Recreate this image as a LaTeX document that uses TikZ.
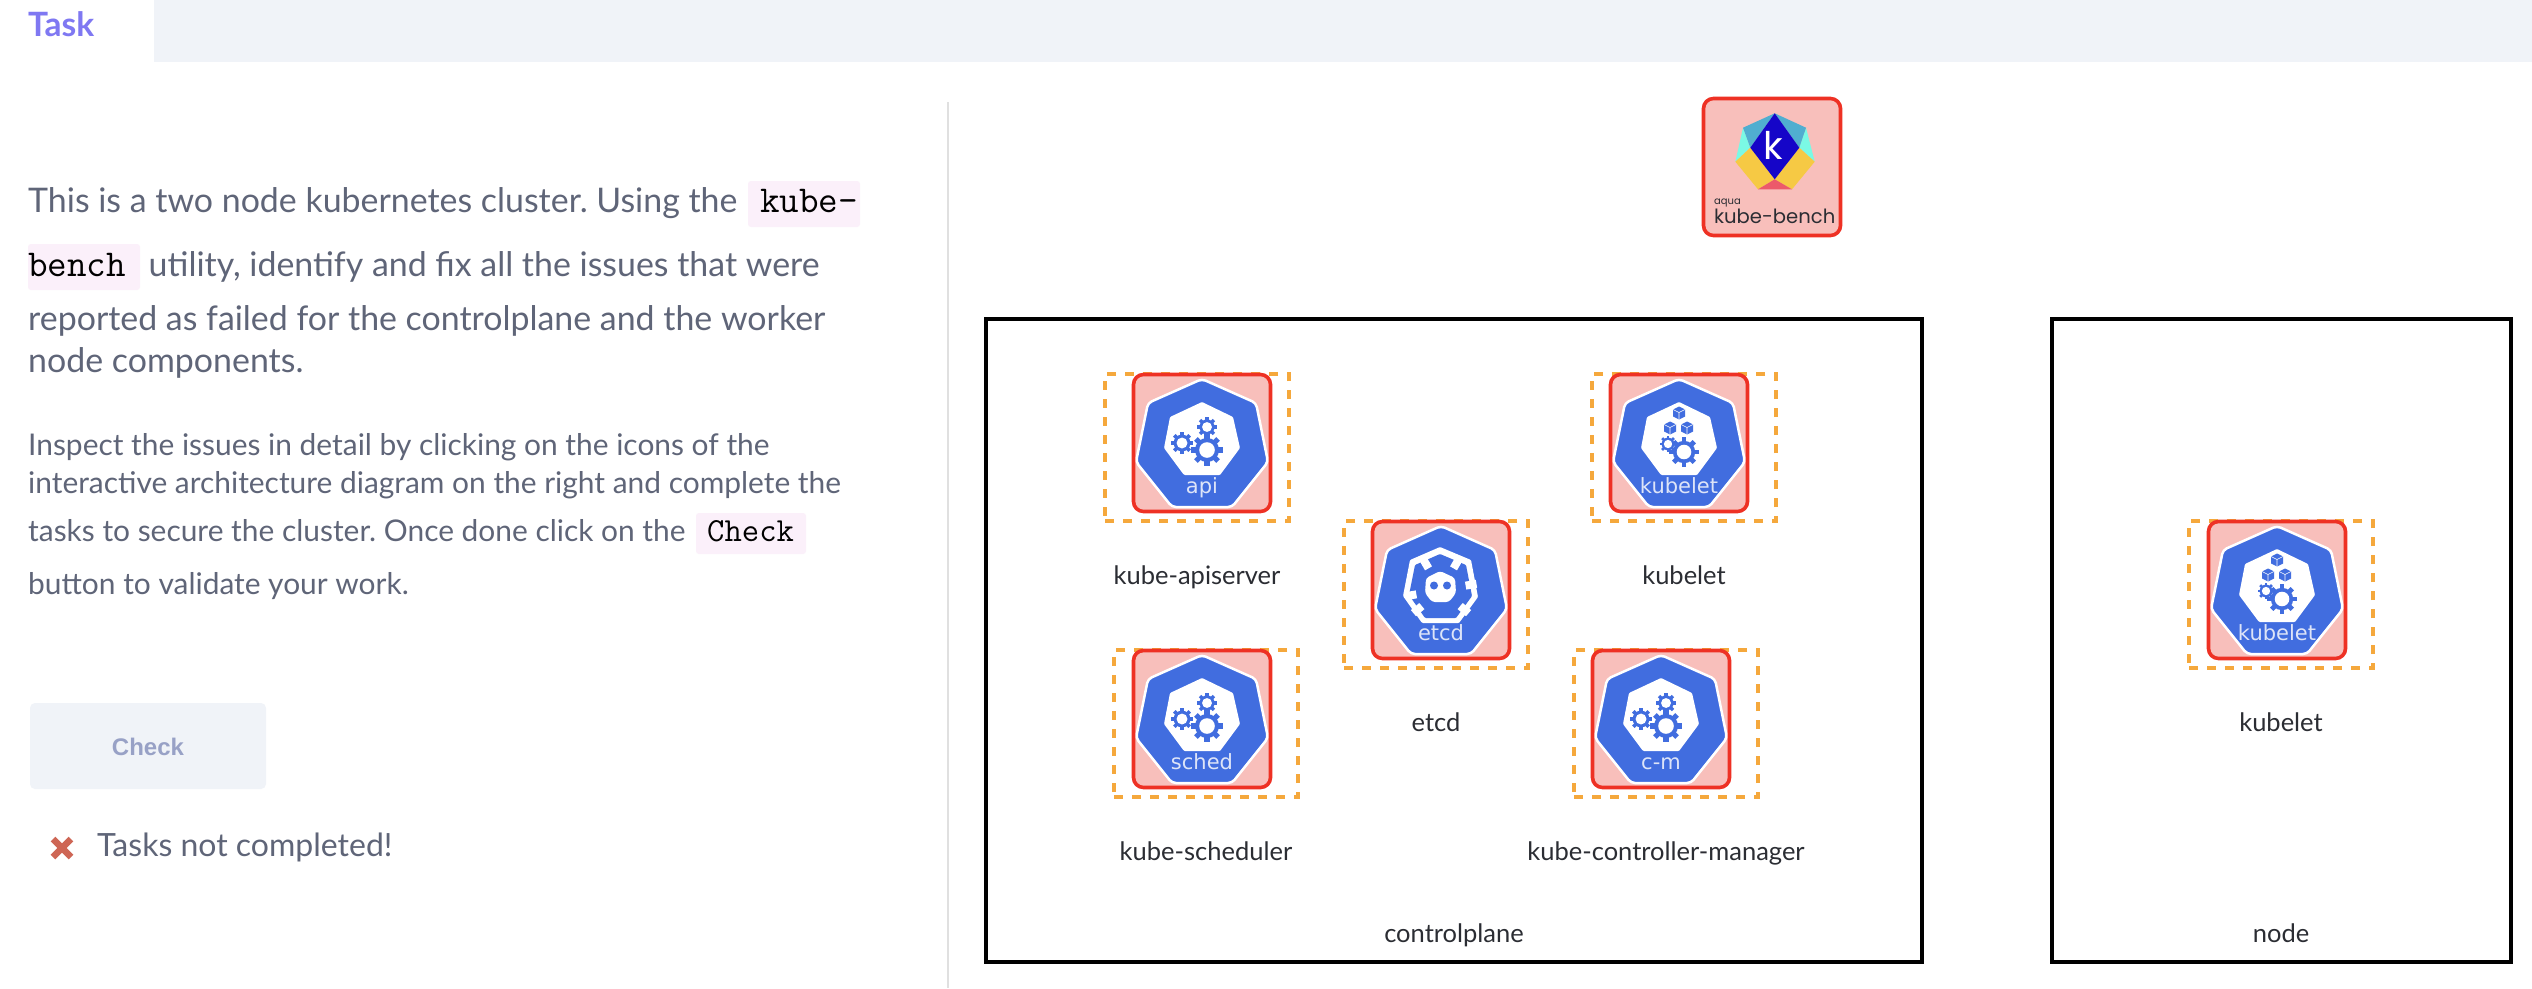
\documentclass[tikz,border=0pt]{standalone}
\usepackage{fontspec}
\setmainfont{Lato}
\newfontfamily\iconfont{DejaVu Sans}
\newfontfamily\logofont{Poppins}
\newfontfamily\btnfont{Liberation Sans}
\usetikzlibrary{positioning}

\definecolor{tabgrey}{HTML}{F0F3F8}
\definecolor{bodygrey}{HTML}{5F6578}
\definecolor{taskviolet}{HTML}{7F78F2}
\definecolor{chipbg}{HTML}{FBF0FA}
\definecolor{btntext}{HTML}{98A1C6}
\definecolor{crossred}{HTML}{CE6655}
\definecolor{failred}{HTML}{EE3124}
\definecolor{failpink}{HTML}{F8BFBB}
\definecolor{frameorange}{HTML}{F5A83C}
\definecolor{kubeblue}{HTML}{416DDF}
\definecolor{kubetext}{HTML}{DDE4F8}
\definecolor{labelgrey}{HTML}{2B2D33}
\definecolor{logoblue}{HTML}{1505C8}
\definecolor{logosky}{HTML}{50AED0}
\definecolor{logocyan}{HTML}{7BF9E5}
\definecolor{logoyellow}{HTML}{F6C944}
\definecolor{logored}{HTML}{EC5A6A}

\tikzset{
  bigtext/.style={anchor=base west, inner sep=0pt, text=bodygrey, font=\fontsize{33.9}{38}\selectfont},
  smalltext/.style={anchor=base west, inner sep=0pt, text=bodygrey, font=\fontsize{29.9}{34}\selectfont},
  chip/.style={fill=chipbg, rounded corners=3pt, inner sep=0pt},
  codetext/.style={anchor=base west, inner sep=0pt, text=black},
  complabel/.style={anchor=base, inner sep=0pt, text=labelgrey, font=\fontsize{25.5}{30}\selectfont},
  clusterbox/.style={draw=black, line width=4pt, inner sep=0pt},
  iconbox/.style={draw=failred, fill=failpink, line width=3.6pt, rounded corners=10pt, minimum size=137pt, inner sep=0pt},
  failframe/.style={draw=frameorange, line width=3.5pt, dash pattern=on 9pt off 9pt, minimum width=184pt, minimum height=147pt, inner sep=0pt},
  pics/hept/.style={code={
    \draw[fill=kubeblue, draw=white, line width=2.5pt, rounded corners=4pt]
      (0,-64) -- (54,-40) -- (66,19) -- (30,64) -- (-30,64) -- (-66,19) -- (-54,-40) -- cycle;
  }},
  pics/innerhept/.style={code={
    \fill[white, rounded corners=1pt]
      (0,-41) -- (31,-26) -- (38,5) -- (18,32) -- (-18,32) -- (-38,5) -- (-32,-26) -- cycle;
  }},
  pics/gearicon/.style={code={
    \foreach \a in {0,45,...,315}
      \draw[kubeblue, line width=#1*.34pt] (\a:#1*.6) -- (\a:#1*1.04);
    \fill[kubeblue] (0,0) circle (#1*.8);
    \fill[white] (0,0) circle (#1*.52);
  }},
  pics/cubeicon/.style={code={
    \fill[kubeblue] (0,-6.5) -- (6,-3.5) -- (6,3.5) -- (0,6.5) -- (-6,3.5) -- (-6,-3.5) -- cycle;
    \draw[white, line width=.6pt] (-6,-3.5) -- (0,-.5) -- (6,-3.5) (0,-.5) -- (0,6.5);
  }},
  pics/threegears/.style={code={
    \pic at (0,0) {innerhept};
    \pic at (-20,0) {gearicon=10.5};
    \pic at (5,-16) {gearicon=9.5};
    \pic at (5,7) {gearicon=15};
  }},
  pics/cubegears/.style={code={
    \pic at (0,0) {innerhept};
    \pic at (0,-30) {cubeicon};
    \pic at (-9,-15) {cubeicon};
    \pic at (8,-15) {cubeicon};
    \pic at (-11,1) {gearicon=8};
    \pic at (5,9) {gearicon=14};
  }},
  pics/etcdmark/.style={code={
    \fill[white, rounded corners=1pt]
      (-1,-43) -- (30,-30) -- (37,7) -- (18,33) -- (-19,33) -- (-38,6) -- (-31,-30) -- cycle;
    \fill[kubeblue, rounded corners=1pt]
      (-1,-36) -- (25,-25) -- (31,6) -- (15,28) -- (-16,28) -- (-32,5) -- (-26,-25) -- cycle;
    \foreach \a in {-60,-120,-10,170,40,140}
      \draw[white, line width=8pt] (\a:25) -- (\a:36);
    \fill[white, rounded corners=3pt]
      (-1,-19) -- (14,-12) -- (15,3) -- (8,12) -- (-9,12) -- (-16,3) -- (-15,-12) -- cycle;
    \fill[kubeblue] (-7,-4.5) circle (4) (6,-4.5) circle (4);
  }}
}

\begin{document}
\frenchspacing
\begin{tikzpicture}[x=1pt, y=-1pt]
  \useasboundingbox[fill=white] (0,0) rectangle (2532,988);

  \fill[tabgrey] (154,0) rectangle (2532,62);
  \node[anchor=base west, inner sep=0pt, text=taskviolet, font=\fontsize{33.5}{38}\selectfont\bfseries] (task) at (28,36) {Task};
  \draw[black!12, line width=2pt] (948,102) -- (948,988);

  \node[chip, minimum width=112pt, minimum height=46pt] (chipa) at (804,204) {};
  \node[chip, minimum width=112pt, minimum height=46pt] (chipb) at (84,267) {};
  \node[chip, minimum width=110pt, minimum height=41pt] (chipc) at (751,533.5) {};
  \node[codetext, font=\fontsize{38}{40}\ttfamily] (codea) at (760,212.6) {kube-};
  \node[codetext, font=\fontsize{38}{40}\ttfamily] (codeb) at (28,276) {bench};
  \node[codetext, font=\fontsize{33.7}{36}\ttfamily] (codec) at (707,541) {Check};

  \node[bigtext] (linea) at (28,212.6) {This is a two node kubernetes cluster. Using the};
  \node[bigtext] (lineb) at (148.5,276) {utility, identify and fix all the issues that were};
  \node[bigtext] (linec) at (28,330) {reported as failed for the controlplane and the worker};
  \node[bigtext] (lined) at (28,372.5) {node components.};
  \node[smalltext] (linee) at (28,455) {Inspect the issues in detail by clicking on the icons of the};
  \node[smalltext] (linef) at (28,493) {interactive architecture diagram on the right and complete the};
  \node[smalltext] (lineg) at (28,541) {tasks to secure the cluster. Once done click on the};
  \node[smalltext] (lineh) at (28,594) {button to validate your work.};

  \node[fill=tabgrey, rounded corners=5pt, minimum width=236pt, minimum height=86pt, inner sep=0pt] (checkbtn) at (148,746) {};
  \node[anchor=base, inner sep=0pt, text=btntext, font=\fontsize{24}{28}\btnfont\bfseries] (checklabel) at (148,755) {Check};
  \coordinate (crossa) at (53,839);
  \coordinate (crossb) at (71,857);
  \coordinate (crossc) at (71,839);
  \coordinate (crossd) at (53,857);
  \draw[crossred, line width=6.5pt] (crossa) -- (crossb) (crossc) -- (crossd);
  \node[bigtext, font=\fontsize{32}{38}\selectfont] (notdone) at (97,856) {Tasks not completed!};

  \node[clusterbox, minimum width=936.5pt, minimum height=643pt] (controlplane) at (1454.2,640.5) {};
  \node[clusterbox, minimum width=459pt, minimum height=643pt] (worker) at (2281,640.5) {};
  \node[complabel] (controlplanelabel) at (1454,942.7) {controlplane};
  \node[complabel] (workerlabel) at (2281,942.7) {node};

  \foreach \nm/\ix/\iy/\fx/\fy/\short/\lab in {
    api/1202/443/1197/447.5/api/kube-apiserver,
    kubelet/1679/443/1684/447.5/kubelet/kubelet,
    etcd/1441/590/1436/594.5/etcd/etcd,
    sched/1202/719/1206/723.5/sched/kube-scheduler,
    cm/1661/719/1666/723.5/c-m/kube-controller-manager,
    workerlet/2277/590/2281/594.5/kubelet/kubelet}
  {
    \node[failframe] (\nm frame) at (\fx,\fy) {};
    \node[iconbox] (\nm) at (\ix,\iy) {};
    \pic at (\nm) {hept};
    \node[anchor=base, inner sep=0pt, text=kubetext, font=\fontsize{21}{24}\iconfont] (\nm short) at (\ix,\iy+50) {\short};
    \node[complabel] (\nm label) at (\fx,\fy+136.5) {\lab};
  }

  \foreach \nm in {api,sched,cm}
    \pic at (\nm) {threegears};
  \foreach \nm in {kubelet,workerlet}
    \pic at (\nm) {cubegears};
  \pic at (etcd) {etcdmark};

  \node[iconbox] (kb) at (1772,167) {};
  \begin{scope}[shift={(kb.center)}]
    \fill[logocyan] (-29,-39.3) -- (-21.7,-19.3) -- (-36.7,-5.3) -- cycle
      (34,-39.3) -- (27.3,-19.3) -- (42.7,-5.3) -- cycle;
    \fill[logosky] (-29,-39.3) -- (2.7,-53.7) -- (-21.7,-19.3) -- cycle
      (34,-39.3) -- (2.7,-53.7) -- (27.3,-19.3) -- cycle;
    \fill[logoyellow] (-21.7,-19.3) -- (2.7,12.3) -- (-14,22.3) -- (-36.7,-5.3) -- cycle
      (27.3,-19.3) -- (2.7,12.3) -- (20,22.3) -- (42.7,-5.3) -- cycle;
    \fill[logored] (2.7,12.3) -- (20,22.3) -- (-14,22.3) -- cycle;
    \fill[logoblue] (2.7,-53.7) -- (27.3,-19.3) -- (2.7,12.3) -- (-21.7,-19.3) -- cycle;
    \node[inner sep=0pt, text=white, font=\fontsize{38}{40}\logofont] (kbk) at (1.7,-22) {k};
    \node[anchor=base west, inner sep=0pt, text=labelgrey, font=\fontsize{10}{12}\logofont] (kbaqua) at (-58,37) {aqua};
    \node[anchor=base, inner sep=0pt, text=labelgrey, font=\fontsize{19.6}{24}\logofont] (kbname) at (2.7,56) {kube-bench};
  \end{scope}
\end{tikzpicture}
\end{document}
